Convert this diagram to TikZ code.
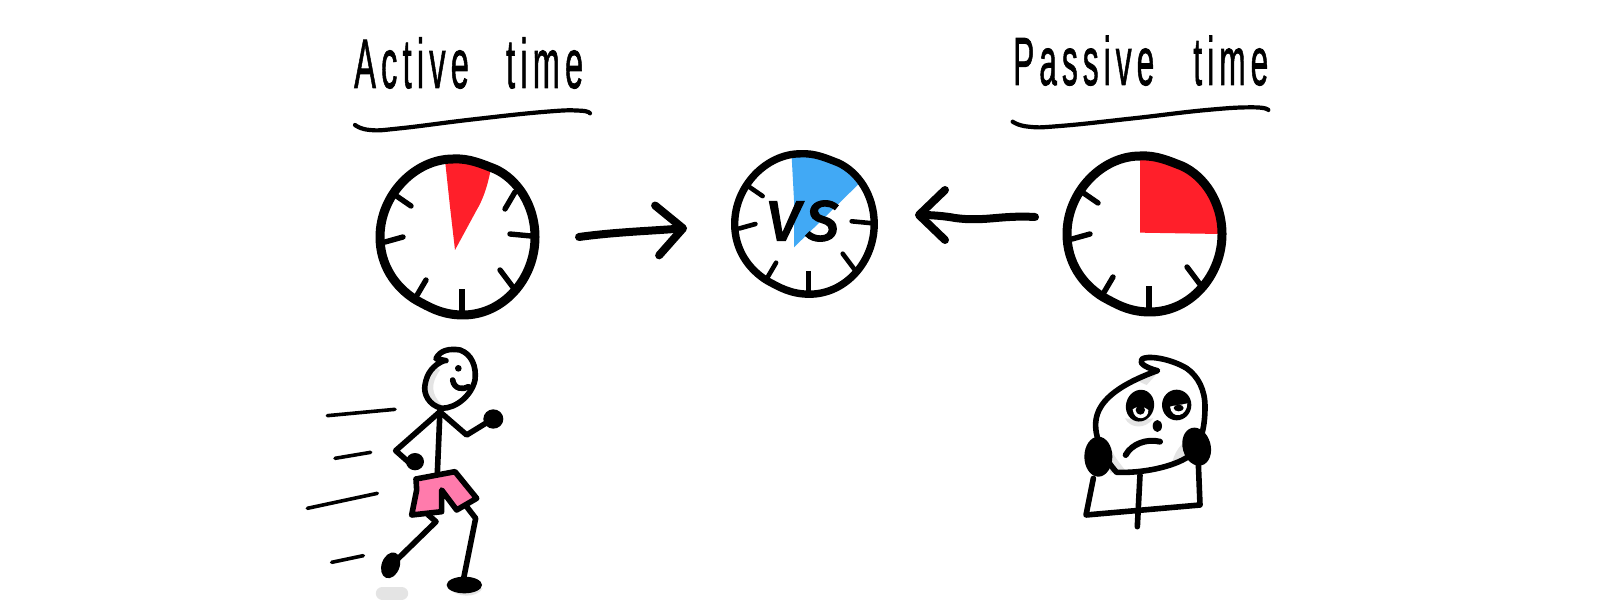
\documentclass[tikz,border=0pt]{standalone}
\usepackage{fontspec}
\usetikzlibrary{arrows.meta}
\setmainfont{Liberation Sans}
\newfontfamily\handfont[LetterSpace=16,FakeBold=1.4]{Liberation Sans}
\newfontfamily\labelfont[FakeBold=1.6,LetterSpace=6]{Fira Sans}
\definecolor{alarm}{HTML}{FF1F2A}
\definecolor{sky}{HTML}{41A9F5}
\definecolor{shorts}{HTML}{FF7BAC}
\definecolor{softgray}{HTML}{E4E4E4}
\tikzset{
  x=1pt,y=-1pt,
  fine/.style={line cap=round,line join=round},
  tickmark/.style={fine,line width=5.4pt},
  rimline/.style={fine,line width=9pt},
  body/.style={fine,line width=5.6pt},
  speedline/.style={fine,line width=3.6pt},
  underline/.style={fine,line width=4.2pt},
  bigarrow/.style={fine,line width=8pt,-{Straight Barb[length=26pt,width=50pt,line width=8pt,round]}},
  heading/.style={inner sep=0pt,anchor=base west},
  zoomed/.style={x=0.33333pt,y=-0.33333pt},
  clockrim/.pic={
    \draw[rimline] (-4,-78) .. controls (12,-79) and (25,-73) .. (38,-68)
      .. controls (60,-58) and (78,-32) .. (78,0)
      .. controls (78,42) and (46,78) .. (6,78)
      .. controls (-15,78) and (-28,70) .. (-41,63)
      .. controls (-62,50) and (-77,28) .. (-77,0)
      .. controls (-77,-42) and (-42,-78) .. (-4,-78) -- cycle;
    \draw[tickmark] (-62,-42) -- (-46,-31);
    \draw[tickmark] (-72,5) -- (-54,0);
    \draw[tickmark] (-41,60) -- (-31,43);
    \draw[tickmark,line cap=butt] (5,52) -- (5,77);
    \draw[tickmark] (43,33) -- (58,53);
  },
  tickeast/.pic={\draw[tickmark] (53,-3) -- (74,-1);},
  ticknortheast/.pic={\draw[tickmark] (48,-28) -- (58,-45);},
}
\begin{document}
\begin{tikzpicture}
\useasboundingbox (0,0) rectangle (1600,612);
\fill[white] (0,0) rectangle (1600,612);

% Headings and their swashes
\node[heading] (activetitle) at (354,88) {\scalebox{0.465}[1]{\handfont\fontsize{70}{70}\selectfont Active\hspace{80pt}time}};
\node[heading] (passivetitle) at (1013,85) {\scalebox{0.465}[1]{\handfont\fontsize{68}{68}\selectfont Passive\hspace{84pt}time}};
\begin{scope}[shift={(340pt,-20pt)},zoomed]
  \draw[underline] plot[smooth,tension=0.8] coordinates {(45,315) (90,330) (180,325) (400,298) (620,275) (720,272) (750,280)};
\end{scope}
\begin{scope}[shift={(1000pt,-20pt)},zoomed]
  \draw[underline] plot[smooth,tension=0.8] coordinates {(38,305) (85,320) (180,318) (400,295) (620,270) (760,262) (805,270)};
\end{scope}

% Left clock: short red slice
\begin{scope}[shift={(370pt,-140pt)},zoomed]
  \fill[alarm] (225,60) .. controls (270,58) and (320,72) .. (362,90)
     .. controls (350,150) and (335,185) .. (320,210) -- (255,330) -- (240,200) -- cycle;
\end{scope}
\pic at (457,237) {clockrim};
\pic at (457,237) {tickeast};
\pic at (457,237) {ticknortheast};

% Middle clock: blue slice and the label
\begin{scope}[shift={(720pt,-140pt)},zoomed]
  \fill[sky] (215,50) .. controls (230,28) and (270,28) .. (330,62)
     .. controls (365,80) and (395,105) .. (415,133) -- (222,322) -- (222,180) -- cycle;
\end{scope}
\pic[scale=0.9,rimline/.append style={line width=7.4pt},tickmark/.append style={line width=4.6pt}] at (804,224) {clockrim};
\pic[scale=0.9,tickmark/.append style={line width=4.6pt}] at (804,224) {tickeast};
\node[inner sep=0pt] (versus) at (803,221) {\labelfont\fontsize{74}{74}\selectfont\itshape vs};

% Right clock: quarter in red
\begin{scope}[shift={(1050pt,-140pt)},zoomed]
  \fill[alarm] (270,50) .. controls (320,55) and (375,70) .. (415,95)
     .. controls (470,130) and (505,190) .. (510,282) -- (270,278) -- cycle;
\end{scope}
\pic at (1144,234) {clockrim};

% Arrows pointing at the middle clock
\coordinate (arrowAstart) at (579,237);
\coordinate (arrowAtip) at (687,228);
\coordinate (arrowPstart) at (1035,217);
\coordinate (arrowPtip) at (915,215);
\draw[bigarrow] (arrowAstart) .. controls (615,232) and (650,231) .. (arrowAtip);
\draw[bigarrow] (arrowPstart) .. controls (1000,215) and (985,222) .. (955,218) .. controls (945,216) and (930,215) .. (arrowPtip);

% Running figure
\begin{scope}[shift={(300pt,-330pt)},zoomed]
  \draw[softgray,fine,line width=13pt] (247,790) -- (305,790);
  \fill[softgray] (440,770) .. controls (470,805) and (530,805) .. (548,775) -- cycle;
  \fill[softgray] (400,105) .. controls (365,140) and (360,190) .. (395,232) -- (425,225) .. controls (392,190) and (392,160) .. (420,120) -- cycle;
  \draw[speedline] (82,257) -- (285,238);
  \draw[speedline] (105,385) -- (212,367);
  \draw[speedline] (22,535) -- (232,490);
  \draw[speedline] (95,697) -- (190,677);
  \draw[body] (438,92) -- (408,86) .. controls (420,60) and (450,55) .. (480,60)
     .. controls (515,72) and (530,110) .. (525,150) .. controls (515,195) and (470,235) .. (425,235)
     .. controls (385,225) and (370,190) .. (375,165) .. controls (380,130) and (400,105) .. (432,92);
  \fill (475,115) circle[radius=10];
  \draw[body] (458,150) .. controls (462,178) and (490,180) .. (505,170);
  \draw[body] (420,240) -- (412,430);
  \draw[body] (420,245) -- (287,362) -- (330,400);
  \fill (345,395) ellipse[x radius=27,y radius=26];
  \draw[body] (425,250) -- (500,315) -- (565,275);
  \fill (580,267) ellipse[x radius=30,y radius=29];
  \draw[body] (385,555) -- (408,575) -- (290,690);
  \fill[rotate around={-20:(272,706)}] (272,706) ellipse[x radius=27,y radius=40];
  \draw[body] (500,530) -- (527,565) -- (490,750);
  \fill (493,765) ellipse[x radius=53,y radius=25];
  \filldraw[body,fill=shorts] (348,447) -- (465,425) -- (530,505) -- (470,540) -- (425,480) -- (425,545) -- (335,555) -- (350,480) -- cycle;
\end{scope}

% Seated figure with the head in both hands
\begin{scope}[shift={(1060pt,-340pt)},zoomed]
  \fill[softgray] (215,115) .. controls (250,110) and (280,105) .. (305,85) -- (260,135) -- cycle;
  \fill[softgray] (140,300) .. controls (160,350) and (180,370) .. (195,390) -- (150,400) -- cycle;
  \fill[softgray] (395,290) .. controls (365,305) and (340,340) .. (335,375) -- (395,350) -- cycle;
  \fill[softgray] (195,235) .. controls (210,265) and (255,270) .. (280,235) -- (240,240) -- cycle;
  \draw[body] (100,415) -- (78,525) -- (420,495) -- (415,370);
  \draw[body] (240,405) -- (232,560);
  \draw[body] (292,92) .. controls (265,85) and (235,72) .. (245,58)
     .. controls (260,45) and (330,55) .. (380,85) .. controls (415,110) and (435,150) .. (435,200)
     .. controls (435,270) and (420,320) .. (385,350) .. controls (340,380) and (250,400) .. (170,397)
     .. controls (135,360) and (100,290) .. (108,240) .. controls (115,190) and (160,140) .. (292,92);
  \fill (115,350) ellipse[x radius=42,y radius=60];
  \fill[rotate around={15:(410,320)}] (410,320) ellipse[x radius=42,y radius=58];
  \fill[rotate around={-15:(240,197)}] (240,197) ellipse[x radius=42,y radius=48];
  \fill (350,195) ellipse[x radius=44,y radius=46];
  \fill[white] (218,208) .. controls (228,198) and (254,198) .. (265,210) .. controls (268,238) and (222,248) .. (218,208) -- cycle;
  \fill[white] (330,200) .. controls (345,195) and (365,195) .. (382,190) .. controls (382,230) and (335,240) .. (330,200) -- cycle;
  \fill (241,210) ellipse[x radius=14,y radius=14];
  \fill (356,204) ellipse[x radius=15,y radius=10];
  \fill (292,258) ellipse[x radius=14,y radius=18];
  \draw[body,line width=6pt] (197,345) .. controls (215,312) and (260,295) .. (300,305);
\end{scope}
\end{tikzpicture}
\end{document}
